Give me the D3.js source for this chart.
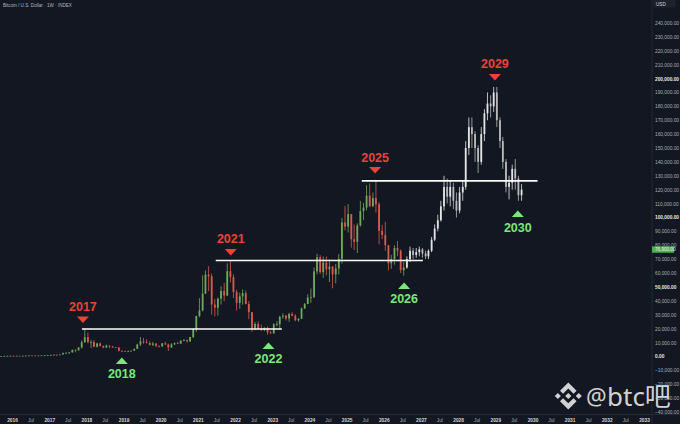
<!DOCTYPE html>
<html><head><meta charset="utf-8">
<script src="https://cdn.jsdelivr.net/npm/d3@7"></script>
<style>html,body{margin:0;padding:0;background:#131722;} svg{display:block}</style>
</head><body><svg id="c" width="680" height="424"></svg>
<script>
// ---------------- DATA ----------------
const title = "Bitcoin / U.S. Dollar · 1W · INDEX";
const histStart = "2015-07-01";
const histFirstOpen = 264;
const histClose = [
  284, 230, 236, 314, 377, 430,
  368, 437, 416, 448, 531, 673, 624, 575, 609, 698, 742, 963,
  970, 1190, 1080, 1350, 2300, 2480, 2875, 4700, 4340, 6470, 10200, 13860,
  10200, 10300, 6930, 9240, 7490, 6390, 7730, 7030, 6625, 6370, 4040, 3740,
  3460, 3850, 4100, 5350, 8570, 10800, 10080, 9600, 8290, 9200, 7570, 7190,
  9350, 8530, 6430, 8620, 9450, 9140, 11350, 11660, 10780, 13800, 19700, 29000,
  33100, 45200, 58800, 57700, 37300, 35000, 41500, 47100, 43800, 61300, 57000, 46300,
  38500, 43200, 45500, 37700, 31800, 19900, 23300, 20050, 19400, 20500, 17170, 16550,
  23100, 23150, 28500, 29250, 27200, 30500, 29200, 26000, 27000, 34500, 37700, 42300,
  42600, 61200, 71300, 60600, 67500, 62700, 64600, 59000, 63300, 70200, 96400, 93400,
  102400, 84300, 82500, 94200, 104600, 107100, 115700, 108200, 114000, 109500, 90400, 87500,
  80000, 67000, 70000, 78000, 76000, 62000, 64000
];
const histHigh = [
  315, 285, 243, 330, 496, 467,
  465, 448, 440, 467, 550, 780, 705, 626, 611, 730, 755, 980,
  1150, 1210, 1300, 1350, 2760, 2980, 2920, 4740, 5000, 6470, 11500, 19800,
  17200, 11800, 11700, 9760, 9990, 7760, 8490, 7760, 7410, 6750, 6600, 4300,
  4100, 4200, 4150, 5640, 9100, 13880, 13200, 12300, 10900, 10400, 9500, 7750,
  9580, 10500, 9190, 9460, 10070, 10400, 11450, 12470, 12100, 14100, 19860, 29300,
  41900, 58350, 61800, 64900, 59600, 41300, 42400, 50500, 52900, 67000, 69000, 59100,
  47900, 45800, 48200, 47400, 39800, 31900, 24700, 25200, 22800, 21000, 21500, 18400,
  23900, 25250, 29200, 31000, 29800, 31400, 31800, 30200, 27500, 35200, 38400, 44700,
  48900, 64000, 73800, 72800, 71900, 71900, 70000, 65000, 66500, 73600, 99600, 108300,
  109600, 102500, 95000, 95800, 111900, 110500, 123200, 124500, 117900, 126200, 111000, 94600,
  97000, 80000, 73000, 80000, 83000, 77000, 68000
];
const histLow = [
  253, 198, 225, 236, 310, 350,
  355, 366, 395, 411, 440, 531, 600, 470, 570, 605, 685, 740,
  750, 920, 890, 1040, 1340, 2240, 1830, 2650, 2950, 4200, 5500, 9700,
  9400, 6000, 6600, 6430, 7030, 5790, 6070, 5880, 6110, 6200, 3650, 3130,
  3400, 3380, 3700, 4060, 5300, 7450, 9100, 9330, 7730, 7300, 6520, 6430,
  6860, 8450, 3800, 6150, 8100, 8900, 9000, 10990, 9880, 10370, 13200, 17570,
  28100, 32300, 44900, 47000, 30000, 28800, 29300, 37300, 39600, 43300, 53300, 42000,
  33000, 34300, 37200, 37400, 26700, 17600, 18800, 19600, 18100, 18200, 15500, 16300,
  16500, 21400, 19600, 26900, 25800, 24800, 28900, 25200, 24900, 26900, 34100, 37600,
  38500, 41900, 59000, 59200, 56500, 58400, 53500, 49000, 52600, 58900, 66800, 90700,
  89200, 78200, 76600, 74400, 93400, 98200, 105100, 107400, 107300, 103500, 80600, 84400,
  76000, 62000, 63000, 66000, 72000, 60000, 58000
];
const projStart = "2026-08-01";
const projClose = [
  70000, 76000, 73000, 75000, 77000,
  74000, 72000, 76000, 84000, 92000, 98000, 108000, 122000, 115000, 122000, 112000, 105000,
  118000, 122000, 150000, 165000, 160000, 150000, 140000, 160000, 175000, 182000, 180000, 190000,
  170000, 155000, 140000, 122000, 125000, 135000, 128000, 116000, 120000
];
const projHigh = [
  72000, 79000, 78000, 78000, 79000,
  78000, 76000, 77000, 86000, 95000, 102000, 112000, 130000, 128000, 127000, 125000, 118000,
  122000, 126000, 155000, 172000, 172000, 162000, 152000, 165000, 178000, 190000, 188000, 194000,
  194000, 172000, 158000, 142000, 130000, 138000, 142000, 130000, 124000
];
const projLow = [
  63000, 68000, 70000, 71000, 72000,
  71000, 70000, 70000, 75000, 83000, 90000, 97000, 105000, 110000, 108000, 106000, 100000,
  103000, 112000, 120000, 145000, 150000, 140000, 132000, 138000, 155000, 170000, 172000, 176000,
  165000, 150000, 135000, 118000, 113000, 120000, 120000, 112000, 112000
];
const yTickValues = [-40000,-30000,-20000,-10000,0,10000,20000,30000,40000,50000,60000,70000,80000,90000,
  100000,110000,120000,130000,140000,150000,160000,170000,180000,190000,200000,210000,220000,230000,240000];
const yStrongTicks = [0, 50000, 100000, 200000];
const xTickYears = [2016,2017,2018,2019,2020,2021,2022,2023,2024,2025,2026,2027,2028,2029,2030,2031,2032,2033];
const levels = [
  {from: "2017-11-18", to: "2023-04-05", value: 19700},
  {from: "2021-06-25", to: "2027-01-20", value: 69000},
  {from: "2025-05-30", to: "2030-02-20", value: 126300}
];
const peaks = [
  {label: "2017", date: "2017-11-28", value: 28700},
  {label: "2021", date: "2021-11-20", value: 77300},
  {label: "2025", date: "2025-10-08", value: 136300},
  {label: "2029", date: "2028-12-28", value: 203300}
];
const troughs = [
  {label: "2018", date: "2018-12-15", value: -5500},
  {label: "2022", date: "2022-11-25", value: 5300},
  {label: "2026", date: "2026-07-20", value: 48500},
  {label: "2030", date: "2029-08-10", value: 100300}
];
const lastPrice = 76900;
const lastPriceText = "76,900.00";

// ---------------- CHART ----------------
const W = 680, H = 424, axisX = 652, axisY = 414;
const svg = d3.select("#c");
svg.append("rect").attr("width", W).attr("height", H).attr("fill", "#131722");

const x = d3.scaleUtc().domain([new Date(Date.UTC(2016,0,1)), new Date(Date.UTC(2033,0,1))]).range([12, 644]);
const y = d3.scaleLinear().domain([-40000, 240000]).range([411.9, 23]);

svg.append("clipPath").attr("id", "plot").append("rect").attr("x", 0).attr("y", 0).attr("width", axisX).attr("height", axisY);

function build(start, close, high, low, firstOpen) {
  const s = new Date(start + "T00:00:00Z");
  return close.map((c, i) => {
    const d = d3.utcMonth.offset(s, i);
    return {date: d3.utcDay.offset(d, 15), open: i === 0 ? firstOpen : close[i-1], close: c, high: high[i], low: low[i]};
  });
}
const hist = build(histStart, histClose, histHigh, histLow, histFirstOpen);
const proj = build(projStart, projClose, projHigh, projLow, histClose[histClose.length-1]);

const plot = svg.append("g").attr("clip-path", "url(#plot)");

function drawCandles(data, up, down, bw) {
  const g = plot.append("g");
  g.selectAll("line").data(data).join("line")
    .attr("x1", d => x(d.date)).attr("x2", d => x(d.date))
    .attr("y1", d => y(d.high)).attr("y2", d => y(d.low))
    .attr("stroke", d => d.close >= d.open ? up : down).attr("stroke-width", 0.8);
  g.selectAll("rect").data(data).join("rect")
    .attr("x", d => x(d.date) - bw/2).attr("width", bw)
    .attr("y", d => Math.min(y(d.open), y(d.close)))
    .attr("height", d => Math.max(0.8, Math.abs(y(d.open) - y(d.close))))
    .attr("fill", d => d.close >= d.open ? up : down);
}
drawCandles(hist, "#6fa85a", "#d85a4e", 1.8);
drawCandles(proj, "#e4e4e4", "#b9b9b9", 1.8);

// horizontal levels
plot.selectAll(".lvl").data(levels).join("line").attr("class", "lvl")
  .attr("x1", d => x(new Date(d.from))).attr("x2", d => x(new Date(d.to)))
  .attr("y1", d => y(d.value)).attr("y2", d => y(d.value))
  .attr("stroke", "#ffffff").attr("stroke-width", 1.6);

// annotations
const red = "#ec4237", green = "#79e779";
const ann = svg.append("g").style("font-family", "'Liberation Sans', Arial, sans-serif").style("font-weight", "bold").style("font-size", "12.5px");
peaks.forEach(p => {
  const px = x(new Date(p.date)), py = y(p.value);
  ann.append("path").attr("d", `M${px-6},${py} L${px+6},${py} L${px},${py+6.5} Z`).attr("fill", red);
  ann.append("text").attr("x", px).attr("y", py - 5.5).attr("text-anchor", "middle").attr("fill", red).text(p.label);
});
troughs.forEach(p => {
  const px = x(new Date(p.date)), py = y(p.value);
  ann.append("path").attr("d", `M${px-6},${py} L${px+6},${py} L${px},${py-6.5} Z`).attr("fill", green);
  ann.append("text").attr("x", px).attr("y", py + 14.5).attr("text-anchor", "middle").attr("fill", green).text(p.label);
});

// title
svg.append("text").attr("x", 3).attr("y", 7).attr("fill", "#b2b5be")
  .style("font-family", "'Liberation Sans', Arial, sans-serif").style("font-size", "4.6px").text(title);

// right axis
svg.append("line").attr("x1", axisX).attr("x2", axisX).attr("y1", 0).attr("y2", H).attr("stroke", "#2a2e39").attr("stroke-width", 0.8);
const yAxis = svg.append("g").attr("transform", `translate(${axisX},0)`)
  .call(d3.axisRight(y).tickValues(yTickValues).tickFormat(d3.format(",.2f")).tickSize(0).tickPadding(3));
yAxis.select(".domain").remove();
yAxis.selectAll("text")
  .style("font-family", "'Liberation Sans', Arial, sans-serif").style("font-size", "4.8px")
  .style("font-weight", d => yStrongTicks.includes(d) ? "bold" : "normal")
  .attr("fill", d => yStrongTicks.includes(d) ? "#e6e6e6" : "#a9acb6");

// USD box
svg.append("rect").attr("x", axisX + 1.5).attr("y", 0).attr("width", 22).attr("height", 7.5).attr("fill", "#1e222d");
svg.append("text").attr("x", axisX + 4).attr("y", 5.5).attr("fill", "#d1d4dc")
  .style("font-family", "'Liberation Sans', Arial, sans-serif").style("font-size", "4.6px").text("USD");

// last price label
svg.append("rect").attr("x", axisX).attr("y", y(lastPrice) - 3.2).attr("width", 22).attr("height", 6.4).attr("fill", "#4caf50");
svg.append("text").attr("x", axisX + 3).attr("y", y(lastPrice) + 1.7).attr("fill", "#e8f5e9")
  .style("font-family", "'Liberation Sans', Arial, sans-serif").style("font-size", "4.6px").text(lastPriceText);

// bottom axis
svg.append("line").attr("x1", 0).attr("x2", W).attr("y1", axisY + 0.5).attr("y2", axisY + 0.5).attr("stroke", "#2a2e39").attr("stroke-width", 0.8);
const xTicks = [];
xTickYears.forEach(yr => { xTicks.push(new Date(Date.UTC(yr,0,1))); if (yr < 2033) xTicks.push(new Date(Date.UTC(yr,6,1))); });
const xAxis = svg.append("g").attr("transform", `translate(0,${axisY})`)
  .call(d3.axisBottom(x).tickValues(xTicks).tickSize(0).tickPadding(4.5)
    .tickFormat(d => d.getUTCMonth() === 0 ? String(d.getUTCFullYear()) : "Jul"));
xAxis.select(".domain").remove();
xAxis.selectAll("text")
  .style("font-family", "'Liberation Sans', Arial, sans-serif").style("font-size", "4.8px")
  .style("font-weight", d => d.getUTCMonth() === 0 ? "bold" : "normal")
  .attr("fill", d => d.getUTCMonth() === 0 ? "#d1d4dc" : "#a9acb6");

// watermark
const wm = svg.append("g").attr("fill", "#dcdcdc").attr("opacity", 0.95);
wm.append("g").attr("transform", "translate(554.8,382.5) scale(0.213)").html(
  '<path d="M38.73 53.2l24.59-24.58 24.6 24.6 14.3-14.31L63.32 0 24.42 38.9l14.31 14.3zM0 63.31l14.3-14.31 14.31 14.31-14.31 14.3zM38.73 73.41l24.59 24.59 24.6-24.6 14.31 14.29-38.9 38.91-38.91-38.88-.02-.02zM98.28 63.31l14.3-14.31 14.31 14.3-14.31 14.32z"/><path d="M77.83 63.3L63.32 48.78 52.59 59.51l-1.24 1.23-2.54 2.54-.02.02.02.03 14.51 14.5 14.51-14.52.01-.01z"/>');
wm.append("text").attr("x", 586).attr("y", 405).style("font-family", "'Noto Sans', 'Noto Sans CJK SC', sans-serif").style("font-size", "23px").text("@");
wm.append("text").attr("x", 607).attr("y", 406).style("font-family", "'Noto Sans', 'Noto Sans CJK SC', sans-serif").style("font-size", "26px").text("btc吧");
</script></body></html>
